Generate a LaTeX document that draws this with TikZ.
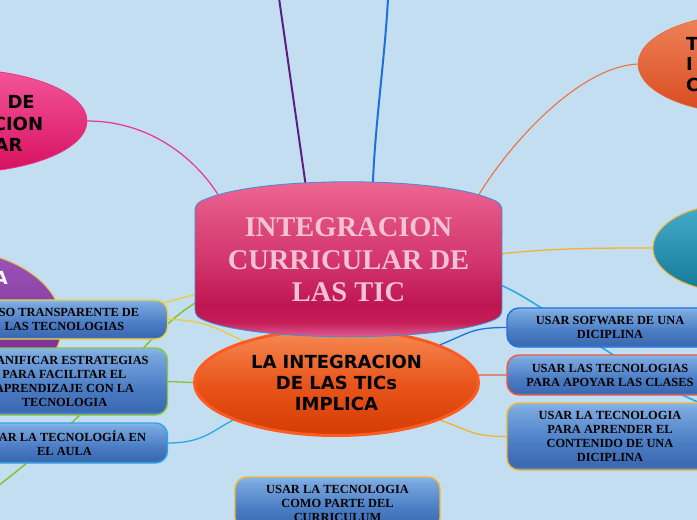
\documentclass[tikz,border=0pt]{standalone}
\usepackage{fontspec}
\setmainfont{Liberation Serif}
\newfontfamily\djsans{DejaVu Sans}
\usetikzlibrary{shapes.geometric,calc}
\definecolor{bg}{HTML}{C3DEF1}
\definecolor{pkT}{HTML}{F4569A}\definecolor{pkB}{HTML}{D70F5F}\definecolor{pkD}{HTML}{E8358A}
\definecolor{orT}{HTML}{F0845A}\definecolor{orB}{HTML}{D74A1E}\definecolor{orD}{HTML}{E8663A}
\definecolor{tlT}{HTML}{47ACCB}\definecolor{tlB}{HTML}{127A96}
\definecolor{puT}{HTML}{9D55B8}\definecolor{puB}{HTML}{6D1F88}\definecolor{puD}{HTML}{E6C43E}
\definecolor{imT}{HTML}{F78B55}\definecolor{imM}{HTML}{E9561C}\definecolor{imB}{HTML}{D43C02}\definecolor{imD}{HTML}{FF5A1F}
\definecolor{mainT}{HTML}{F7C2D4}\definecolor{barrelD}{HTML}{3D8ED4}
\definecolor{cMag}{HTML}{E8358A}\definecolor{cPur}{HTML}{5B1E82}\definecolor{cBlu}{HTML}{1F6FE0}
\definecolor{cOrg}{HTML}{F0703F}\definecolor{cYel}{HTML}{F2B42A}\definecolor{cCya}{HTML}{29A9E6}
\definecolor{cGrn}{HTML}{86C232}\definecolor{cYelB}{HTML}{E8CE3A}\definecolor{cRed}{HTML}{EC5A3C}
\definecolor{bY}{HTML}{E9D23C}\definecolor{bG}{HTML}{8DC63F}\definecolor{bC}{HTML}{2BA8E8}
\definecolor{bB}{HTML}{1F6FE0}\definecolor{bR}{HTML}{EC5A3C}\definecolor{bYb}{HTML}{F2B632}
\definecolor{bxb}{HTML}{5E8FD4}\definecolor{bx3}{HTML}{3A69B1}\definecolor{bx2}{HTML}{4A7CC4}
\definecolor{bx1}{HTML}{77A6DE}\definecolor{bx0}{HTML}{8AB6EA}
\definecolor{br0}{HTML}{E3649A}\definecolor{br1}{HTML}{C41D57}\definecolor{br2}{HTML}{BE1550}
\definecolor{br3}{HTML}{D3376D}\definecolor{br4}{HTML}{E04F80}\definecolor{br5}{HTML}{EE6894}
\pgfdeclareverticalshading{boxshade}{100bp}{color(0bp)=(bxb); color(25bp)=(bxb); color(28bp)=(bx3); color(45bp)=(bx2); color(70bp)=(bx1); color(75bp)=(bx0); color(100bp)=(bx0)}
\pgfdeclareverticalshading{barrelshade}{100bp}{color(0bp)=(br0); color(26bp)=(br0); color(31bp)=(br1); color(36bp)=(br2); color(50bp)=(br3); color(63bp)=(br4); color(74bp)=(br5); color(100bp)=(br5)}
\pgfdeclarelayer{bglayer}
\pgfdeclarelayer{lines}
\pgfsetlayers{bglayer,lines,main}
\begin{document}
\begin{tikzpicture}[x=1pt,y=-1pt,
  conn/.style={line width=1.3pt},
  bx/.style={rounded corners=12pt, shading=boxshade, draw, line width=1.4pt, minimum width=206pt, inner sep=0pt, align=center, font=\fontsize{12.4}{14}\selectfont\bfseries, text=black},
  oval/.style={ellipse, inner sep=0pt},
  ovtext/.style={font=\djsans\fontsize{18}{21}\selectfont\bfseries, inner sep=0pt},
]
\useasboundingbox (0,0) rectangle (697,520);
\begin{pgfonlayer}{bglayer}
\fill[bg] (0,0) rectangle (697,520);
\end{pgfonlayer}

% off-canvas ellipses
\node[oval, minimum width=262pt, minimum height=104pt, top color=pkT, bottom color=pkB, draw=pkD, line width=0.8pt] (tipos) at (-44,121) {};
\node[ovtext, anchor=base east] (tiposa) at (35,108.3) {S DE};
\node[ovtext, anchor=base east] (tiposb) at (43.3,130) {ACION};
\node[ovtext, anchor=base east] (tiposc) at (22.7,151) {AR};

\node[oval, minimum width=224pt, minimum height=100pt, top color=orT, bottom color=orB, draw=orD, line width=0.6pt] (tipo2) at (750,64) {};
\node[ovtext, anchor=base west] (tipo2a) at (686,50) {T};
\node[ovtext, anchor=base west] (tipo2b) at (686,70) {I};
\node[ovtext, anchor=base west] (tipo2c) at (686,91) {C};

\node[oval, minimum width=162pt, minimum height=88pt, top color=tlT, bottom color=tlB, draw=cYel, line width=1pt] (teal) at (734,248) {};

\node[oval, minimum width=224pt, minimum height=150pt, top color=puT, bottom color=puB, draw=puD, line width=1pt] (purp) at (-50,325) {};
\node[ovtext, text=white, anchor=base east] (purpt) at (8,284) {A};

% implica ellipse
\node[oval, ovtext, minimum width=284pt, minimum height=106pt, top color=imT, bottom color=imB, middle color=imM, draw=imD, line width=3pt, align=center] (imp) at (336.5,382.5) {LA INTEGRACION\\DE LAS TICs\\IMPLICA};

% central barrel
\path[shading=barrelshade, draw=barrelD, line width=0.8pt] (195,212) -- (195,308) .. controls (195,316) and (198,318) .. (206,321) .. controls (260,342) and (436,342) .. (491,321) .. controls (499,318) and (502,316) .. (502,308) -- (502,212) .. controls (502,204) and (499,202) .. (491,199) .. controls (436,176) and (260,176) .. (206,199) .. controls (198,202) and (195,204) .. (195,212) -- cycle;
\node[font=\fontsize{28.5}{32.5}\selectfont\bfseries, text=mainT, align=center, minimum width=307pt, minimum height=156pt, inner sep=0pt] (main) at (348.5,260) {INTEGRACION\\CURRICULAR DE\\LAS TIC};

% boxes
\node[bx, draw=bY, minimum height=39pt] (l1) at (64.5,319.5) {\hphantom{U}SO TRANSPARENTE DE\\LAS TECNOLOGIAS};
\node[bx, draw=bG, minimum height=67pt] (l2) at (64.5,381.5) {\hphantom{PL}ANIFICAR ESTRATEGIAS\\PARA FACILITAR EL\\APRENDIZAJE CON LA\\TECNOLOGIA};
\node[bx, draw=bC, minimum height=40pt] (l3) at (64.5,443) {\hphantom{US}AR LA TECNOLOGÍA EN\\EL AULA};
\node[bx, draw=bB, minimum height=39pt] (r1) at (610,327.5) {USAR SOFWARE DE UNA\\DICIPLINA};
\node[bx, draw=bR, minimum height=40pt] (r2) at (610,375) {USAR LAS TECNOLOGIAS\\PARA APOYAR LAS CLASES};
\node[bx, draw=bYb, minimum height=67pt] (r3) at (610,436.5) {USAR LA TECNOLOGIA\\PARA APRENDER EL\\CONTENIDO DE UNA\\DICIPLINA};
\node[bx, draw=bYb, minimum width=205pt, minimum height=53pt] (cur) at (337.5,503.5) {USAR LA TECNOLOGIA\\COMO PARTE DEL\\CURRICULUM};

% free ends
\coordinate (ptop) at (279,-2);
\coordinate (btop) at (388,-2);
\coordinate (cyanend) at (720,410);
\coordinate (greenend) at (-10,492);

\begin{pgfonlayer}{lines}
\draw[conn, cPur, line width=2pt] (ptop) -- ($(main.north west)+(111,4)$);
\draw[conn, cBlu, line width=2pt] (btop) .. controls +(-3,60) and +(2,-60) .. ($(main.north west)+(178,4)$);
\draw[conn, cMag, line width=1.2pt] (tipos.east) .. controls +(60,0) and +(-25,-40) .. ($(main.north west)+(24,14)$);
\draw[conn, cOrg, line width=1.1pt] (tipo2.west) .. controls +(-60,3) and +(30,-50) .. ($(main.north east)+(-24,14)$);
\draw[conn, cYel] ($(main.east)+(-2,-6)$) .. controls +(50,-6) and +(-50,0) .. (teal.west);
\draw[conn, cCya, line width=1.6pt] ($(main.east)+(-2,25)$) .. controls +(40,15) and +(-70,-20) .. (cyanend);
\draw[conn, cYelB] ($(main.west)+(2,34)$) .. controls +(-30,8) and +(40,-5) .. (purp.east);
\draw[conn, cGrn, line width=1.5pt] ($(main.west)+(2,42)$) .. controls +(-55,33) and +(120,-90) .. (greenend);
\draw[conn, cYelB] (l1.east) .. controls +(35,0) and +(-25,-12) .. (imp.156);
\draw[conn, cGrn] (l2.east) -- (imp.west);
\draw[conn, cCya] (l3.east) .. controls +(35,0) and +(-20,10) .. (imp.200);
\draw[conn, cBlu] (r1.west) .. controls +(-35,0) and +(30,-12) .. (imp.20);
\draw[conn, cRed] (r2.west) -- (imp.3);
\draw[conn, cYel] (r3.west) .. controls +(-35,0) and +(30,10) .. (imp.-20);
\end{pgfonlayer}
\end{tikzpicture}
\end{document}
